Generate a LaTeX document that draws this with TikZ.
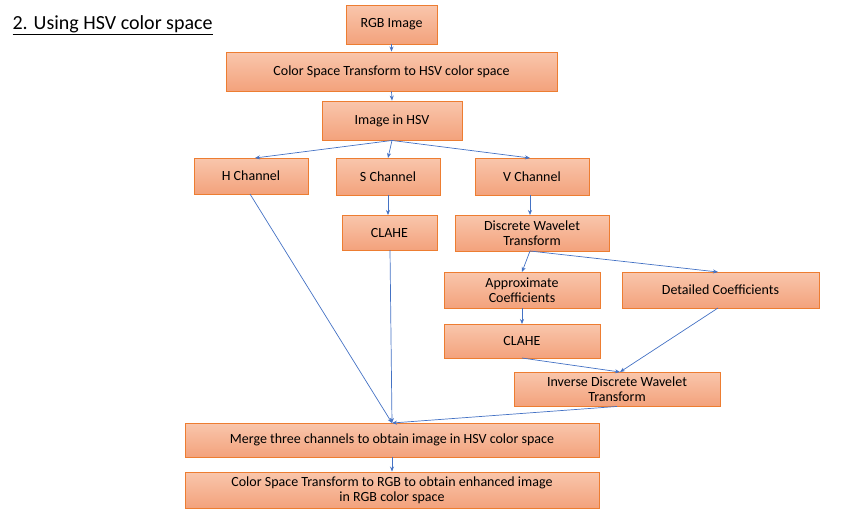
\documentclass[tikz,border=0pt]{standalone}
\usepackage{fontspec}
\setmainfont{Carlito}
\usetikzlibrary{arrows.meta}
\definecolor{bord}{HTML}{ED7D31}
\definecolor{topc}{HTML}{F9C6AC}
\definecolor{botc}{HTML}{F3A27C}
\definecolor{arr}{HTML}{4472C4}
\begin{document}
\begin{tikzpicture}[x=1pt,y=-1pt,
  bx/.style={draw=bord,line width=0.9pt,top color=topc,bottom color=botc,font=\fontsize{14}{15}\selectfont,align=center,inner sep=0pt},
  ar/.style={draw=arr,line width=0.7pt,-{Stealth[length=5pt,width=4pt]}}]
\useasboundingbox (0,0) rectangle (847,515);
\newcommand\bxat[6]{\node[bx,minimum width=#4-#2,minimum height=#5-#3] (#1) at ({(#2+#4)/2},{(#3+#5)/2}) {#6};}
\node[anchor=base west,font=\fontsize{20}{22}\selectfont] (title) at (9,29) {\underline{2. Using HSV color space}};
\bxat{rgb}{346}{5}{437}{44}{RGB Image}
\bxat{cst}{226}{52}{557}{91}{Color Space Transform to HSV color space}
\bxat{ihsv}{322}{101}{462}{140}{Image in HSV}
\bxat{h}{194}{158}{308}{194}{H Channel}
\bxat{s}{336}{158}{440}{195}{S Channel}
\bxat{v}{475}{158}{589}{195}{V Channel}
\bxat{cl1}{342}{215}{437}{250}{CLAHE}
\bxat{dwt}{455}{215}{609}{251}{Discrete Wavelet\\Transform}
\bxat{ap}{444}{272}{600}{308}{Approximate\\Coefficients}
\bxat{det}{622}{272}{819}{308}{Detailed Coefficients}
\bxat{cl2}{444}{324}{600}{358}{CLAHE}
\bxat{idwt}{514}{372}{720}{406}{Inverse Discrete Wavelet\\Transform}
\bxat{mrg}{185}{423}{599}{457}{Merge three channels to obtain image in HSV color space}
\bxat{fin}{185}{472}{599}{508}{Color Space Transform to RGB to obtain enhanced image\\in RGB color space}
\draw[ar] (rgb.south) -- (cst.north);
\draw[ar] (cst.south) -- (ihsv.north);
\draw[ar] (ihsv.south) -- (255,158) coordinate (hn);
\draw[ar] (ihsv.south) -- (388,158) coordinate (sn);
\draw[ar] (ihsv.south) -- (530,158) coordinate (vn);
\draw[ar] (388,195) -- (388,215);
\draw[ar] (530,195) -- (530,215);
\draw[ar] (250,194) -- (392,423) coordinate (mt);
\draw[ar] (390,250) -- (mt);
\draw[ar] (idwt.south) -- (mt);
\draw[ar] (530,251) -- (522,272);
\draw[ar] (530,251) -- (718,272);
\draw[ar] (522,308) -- (522,324);
\draw[ar] (522,358) -- (620,372);
\draw[ar] (718,308) -- (620,372);
\draw[ar] (mrg.south) -- (fin.north);
\end{tikzpicture}
\end{document}
